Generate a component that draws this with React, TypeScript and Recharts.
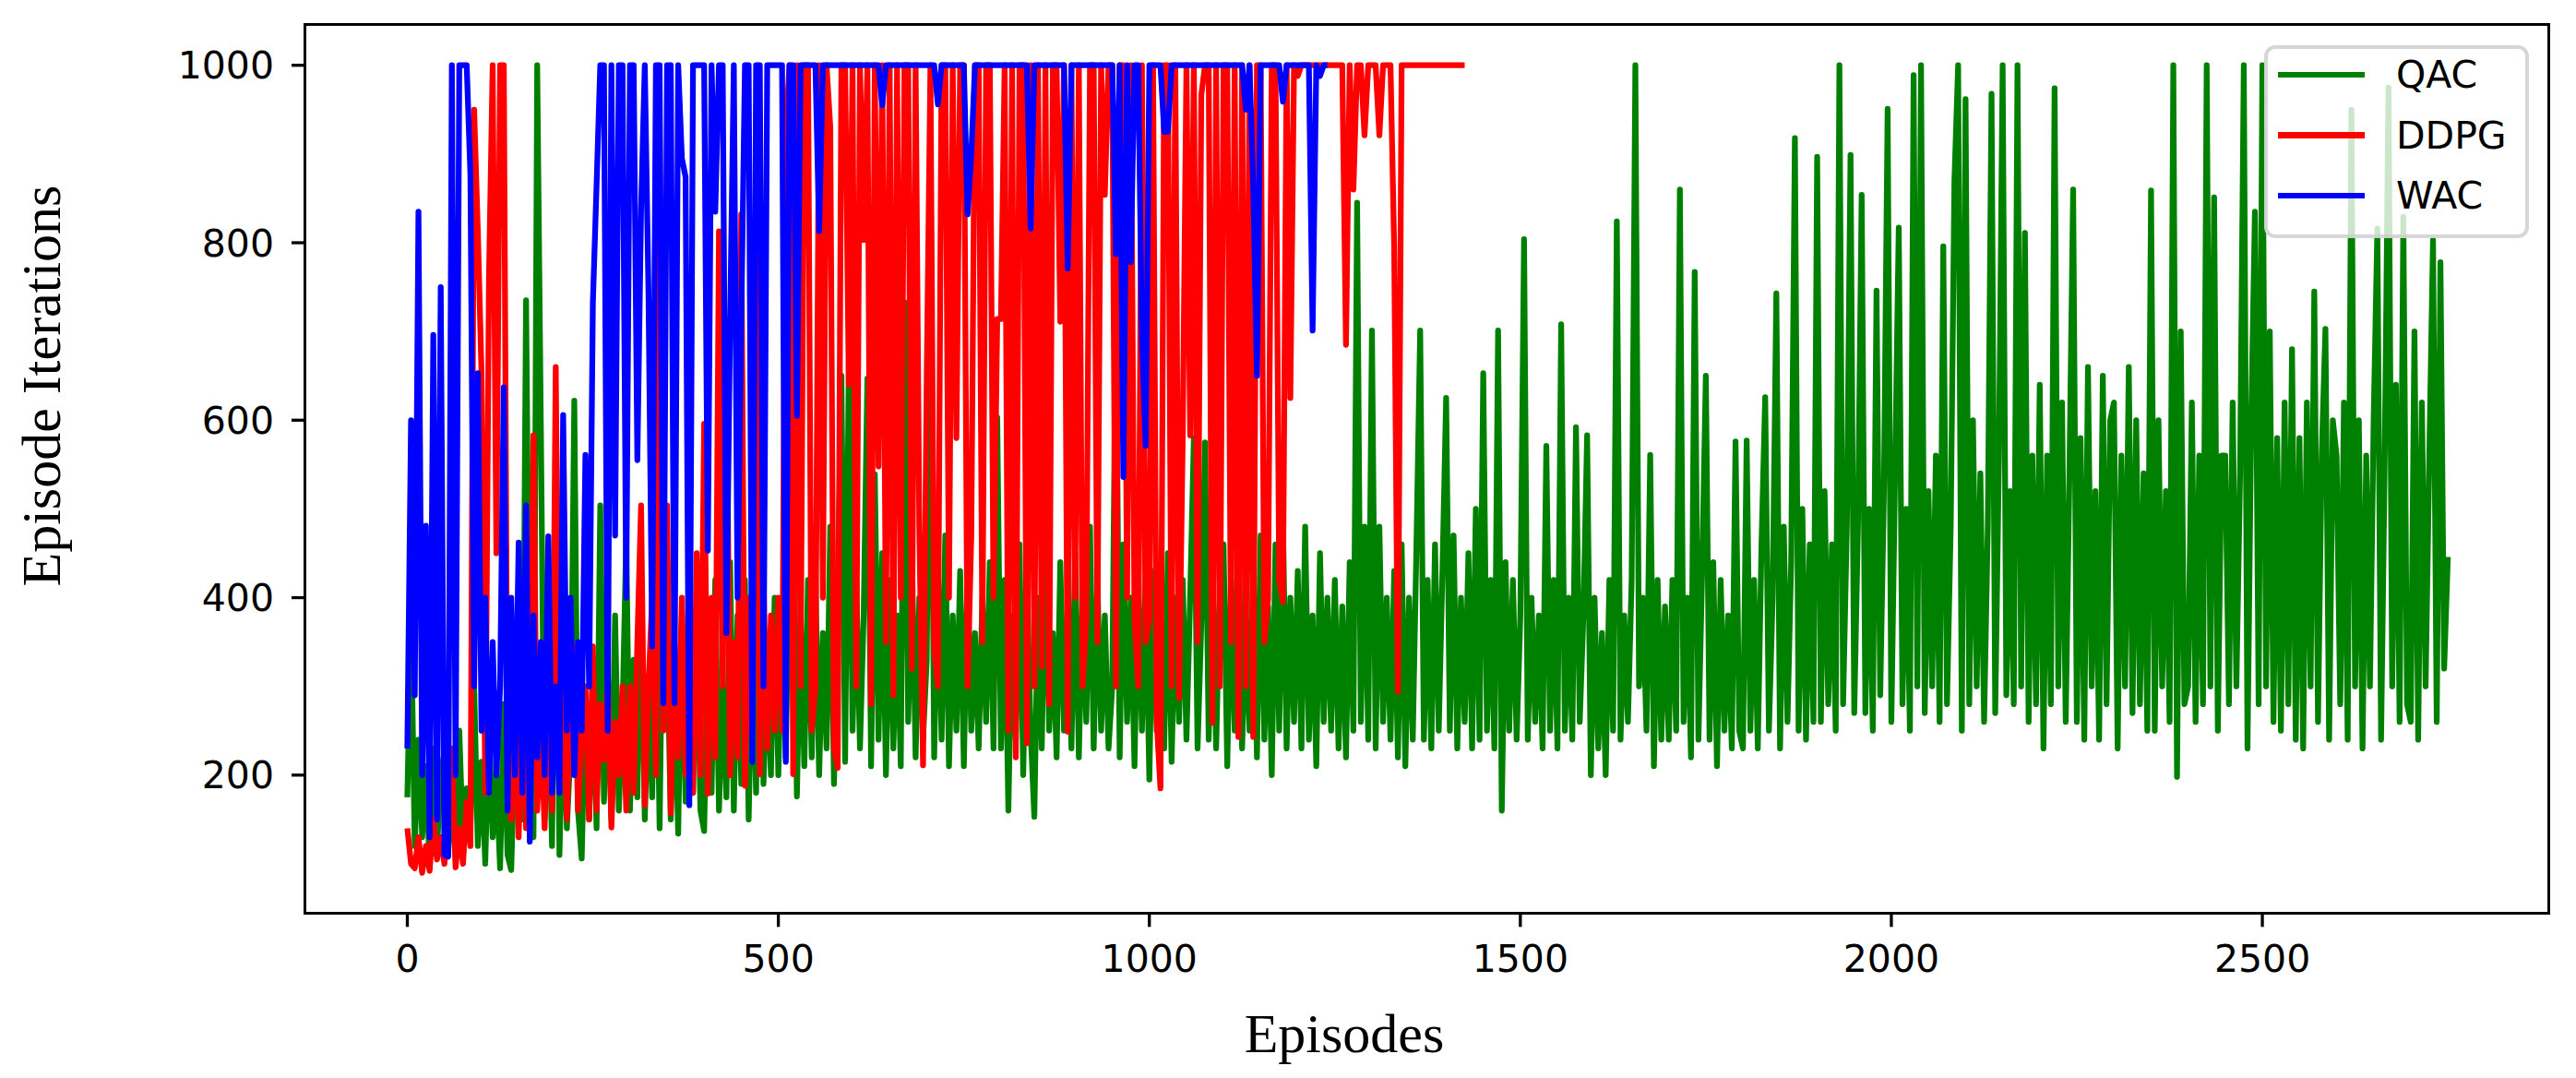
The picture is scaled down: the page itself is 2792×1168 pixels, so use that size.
import { LineChart, Line, XAxis, YAxis } from 'recharts';

// one value every STEP episodes
const STEP = 5;

const QAC = [
  175, 375, 120, 240, 130, 210, 100, 230, 115, 200,
  227, 110, 190, 105, 250, 125, 185, 140, 300, 120,
  215, 100, 260, 130, 200, 95, 280, 110, 93, 240,
  418, 150, 735, 260, 130, 1000, 587, 150, 300, 120,
  517, 110, 280, 140, 230, 622, 160, 106, 290, 150,
  300, 140, 504, 170, 320, 150, 380, 160, 270, 466,
  160, 330, 175, 410, 150, 300, 175, 420, 140, 480,
  360, 150, 310, 134, 380, 170, 290, 180, 400, 160,
  137, 350, 180, 420, 160, 300, 175, 440, 160, 380,
  190, 420, 150, 360, 180, 440, 190, 330, 200, 400,
  200, 380, 220, 470, 469, 176, 383, 210, 420, 220,
  420, 200, 360, 230, 480, 190, 400, 650, 215, 666,
  250, 420, 230, 380, 647, 210, 539, 240, 450, 200,
  420, 230, 380, 210, 733, 260, 450, 220, 400, 240,
  330, 775, 220, 440, 240, 470, 210, 380, 250, 430,
  210, 430, 250, 360, 230, 400, 260, 440, 230, 603,
  230, 420, 160, 380, 240, 460, 200, 420, 250, 153,
  400, 230, 470, 250, 360, 220, 440, 250, 390, 230,
  450, 220, 400, 260, 480, 230, 420, 250, 380, 230,
  300, 740, 220, 460, 260, 400, 210, 430, 250, 420,
  195, 430, 250, 380, 230, 450, 215, 400, 260, 420,
  240, 400, 580, 230, 370, 575, 240, 440, 230, 410,
  460, 210, 420, 250, 500, 230, 380, 250, 440, 220,
  470, 240, 390, 200, 460, 250, 490, 230, 400, 260,
  430, 230, 480, 240, 380, 210, 450, 260, 400, 250,
  420, 230, 390, 220, 440, 250, 845, 260, 480, 240,
  701, 230, 480, 260, 400, 240, 430, 220, 460, 210,
  400, 240, 460, 701, 240, 420, 230, 460, 250, 430,
  625, 250, 470, 230, 400, 260, 450, 230, 500, 240,
  653, 250, 420, 230, 701, 160, 440, 250, 420, 240,
  380, 804, 240, 400, 260, 380, 230, 571, 250, 420,
  230, 708, 250, 400, 240, 592, 260, 380, 583, 200,
  400, 230, 360, 200, 420, 250, 824, 240, 380, 260,
  420, 1000, 300, 400, 250, 561, 210, 420, 240, 390,
  240, 420, 250, 860, 260, 400, 220, 767, 240, 430,
  650, 240, 440, 210, 420, 250, 380, 230, 576, 250,
  230, 577, 250, 420, 230, 460, 626, 250, 400, 743,
  230, 480, 260, 440, 918, 250, 500, 240, 460, 260,
  897, 260, 520, 280, 460, 250, 1000, 280, 480, 899,
  270, 480, 854, 270, 500, 250, 746, 290, 520, 951,
  260, 540, 817, 280, 500, 250, 989, 300, 1000, 270,
  520, 300, 560, 260, 796, 280, 480, 870, 1000, 250,
  962, 280, 600, 300, 540, 260, 480, 968, 270, 560,
  1000, 290, 520, 280, 1000, 300, 811, 260, 560, 280,
  640, 230, 560, 280, 974, 300, 620, 260, 540, 860,
  260, 580, 240, 660, 300, 520, 240, 650, 280, 600,
  620, 230, 560, 300, 660, 270, 600, 280, 540, 250,
  859, 250, 600, 300, 520, 260, 1000, 198, 700, 280,
  300, 620, 260, 560, 280, 1000, 300, 851, 250, 560,
  560, 280, 620, 300, 540, 1000, 230, 600, 835, 280,
  1000, 300, 700, 260, 580, 250, 620, 280, 680, 240,
  580, 230, 620, 300, 745, 260, 560, 703, 240, 600,
  560, 280, 620, 240, 950, 300, 600, 230, 560, 300,
  600, 816, 240, 560, 975, 300, 640, 260, 829, 280,
  260, 700, 240, 620, 300, 560, 803, 260, 778, 320,
  446,
];

const DDPG = [
  140, 100, 95, 130, 90, 120, 92, 150, 105, 130,
  100, 160, 230, 96, 140, 100, 170, 120, 950, 813,
  653, 180, 759, 1000, 450, 1000, 1000, 200, 150, 260,
  130, 300, 140, 220, 583, 160, 260, 140, 300, 160,
  660, 180, 300, 150, 280, 345, 160, 240, 300, 150,
  345, 160, 280, 217, 313, 141, 260, 200, 300, 160,
  300, 180, 350, 504, 166, 300, 400, 200, 918, 250,
  504, 157, 350, 220, 400, 200, 300, 180, 450, 200,
  596, 179, 400, 220, 813, 300, 695, 200, 350, 220,
  832, 188, 400, 250, 794, 201, 420, 230, 380, 250,
  400, 250, 927, 1000, 201, 1000, 300, 1000, 1000, 250,
  300, 1000, 400, 1000, 930, 230, 208, 1000, 1000, 640,
  1000, 300, 1000, 803, 1000, 280, 1000, 548, 1000, 350,
  1000, 290, 1000, 400, 1000, 1000, 320, 1000, 478, 211,
  650, 1000, 345, 300, 1000, 1000, 400, 1000, 580, 1000,
  1000, 300, 469, 1000, 1000, 350, 1000, 1000, 400, 714,
  714, 1000, 250, 1000, 220, 1000, 1000, 236, 1000, 300,
  1000, 322, 1000, 280, 1000, 1000, 711, 1000, 249, 1000,
  400, 1000, 300, 373, 1000, 1000, 350, 1000, 854, 1000,
  1000, 300, 1000, 1000, 400, 1000, 376, 300, 1000, 350,
  376, 1000, 260, 185, 1000, 1000, 300, 1000, 287, 583,
  1000, 583, 1000, 350, 966, 1000, 1000, 259, 1000, 300,
  1000, 1000, 350, 1000, 243, 1000, 300, 1000, 243, 1000,
  1000, 350, 399, 1000, 1000, 420, 395, 1000, 625, 1000,
  988, 1000, 1000, 1000, 1000, 1000, 1000, 1000, 1000, 1000,
  1000, 1000, 1000, 685, 1000, 860, 1000, 1000, 921, 1000,
  1000, 1000, 921, 1000, 1000, 1000, 794, 294, 1000, 1000,
  1000, 1000, 1000, 1000, 1000, 1000, 1000, 1000, 1000, 1000,
  1000, 1000, 1000, 1000, 1000, 1000,
];

const WAC = [
  230, 600, 290, 835, 200, 481, 130, 696, 150, 750,
  110, 108, 1000, 200, 1000, 1000, 1000, 877, 300, 653,
  250, 400, 180, 350, 200, 300, 637, 160, 400, 200,
  462, 180, 504, 125, 380, 220, 350, 200, 469, 180,
  300, 180, 606, 250, 400, 200, 350, 250, 561, 300,
  731, 864, 1000, 1000, 250, 1000, 470, 1000, 1000, 400,
  1000, 1000, 555, 838, 1000, 743, 345, 1000, 1000, 281,
  1000, 1000, 281, 1000, 895, 874, 166, 1000, 1000, 1000,
  1000, 453, 1000, 835, 1000, 1000, 360, 711, 1000, 400,
  711, 1000, 1000, 215, 1000, 1000, 300, 1000, 1000, 1000,
  1000, 1000, 215, 1000, 1000, 605, 1000, 1000, 1000, 1000,
  1000, 813, 1000, 1000, 1000, 1000, 1000, 1000, 1000, 1000,
  1000, 1000, 1000, 1000, 1000, 1000, 1000, 1000, 955, 1000,
  1000, 1000, 1000, 1000, 1000, 1000, 1000, 1000, 1000, 1000,
  1000, 1000, 1000, 956, 1000, 1000, 1000, 1000, 1000, 1000,
  1000, 832, 899, 1000, 1000, 1000, 1000, 1000, 1000, 1000,
  1000, 1000, 1000, 1000, 1000, 1000, 1000, 1000, 816, 1000,
  1000, 1000, 1000, 1000, 1000, 1000, 1000, 1000, 771, 1000,
  1000, 1000, 1000, 1000, 1000, 1000, 1000, 1000, 1000, 1000,
  1000, 787, 1000, 536, 1000, 778, 1000, 1000, 695, 571,
  1000, 1000, 1000, 1000, 925, 925, 1000, 1000, 1000, 1000,
  1000, 1000, 1000, 1000, 1000, 1000, 1000, 1000, 1000, 1000,
  1000, 1000, 1000, 1000, 1000, 1000, 950, 1000, 867, 650,
  1000, 1000, 1000, 1000, 1000, 1000, 959, 1000, 1000, 1000,
  1000, 1000, 1000, 1000, 701, 1000, 988, 1000, 1000,
];

const X_TICKS = [0, 500, 1000, 1500, 2000, 2500];
const Y_TICKS = [200, 400, 600, 800, 1000];

const SERIES = [
  { name: 'QAC', values: QAC, color: '#008000' },
  { name: 'DDPG', values: DDPG, color: '#ff0000' },
  { name: 'WAC', values: WAC, color: '#0000ff' },
];

const toPoints = (values: number[]) =>
  values.map((v, i) => ({ episode: i * STEP, iterations: v }));

const X_DOMAIN = [-137.4, 2885.4];
const Y_DOMAIN = [44.5, 1045.5];

// plot area in page pixels
const PLOT = { left: 331, top: 27, right: 2762, bottom: 989.3 };

const tickFont = { fontSize: 41, fill: '#000', fontFamily: 'DejaVu Sans' };
const tickStroke = { stroke: '#000', strokeWidth: 3.3 };
const serif = '"Liberation Serif", "Times New Roman", serif';

function ChartLegend() {
  return (
    <div
      style={{
        position: 'absolute',
        left: 2454,
        top: 49,
        width: 287,
        height: 209,
        boxSizing: 'border-box',
        border: '4px solid rgba(204,204,204,0.8)',
        borderRadius: 12,
        background: 'rgba(255,255,255,0.8)',
      }}
    >
      {SERIES.map((s, i) => {
        const rowY = 28 + i * 65.5;
        return (
          <div key={s.name}>
            <div
              style={{
                position: 'absolute',
                left: 11,
                top: rowY - 3.1,
                width: 94,
                height: 6.25,
                background: s.color,
              }}
            />
            <span
              style={{
                position: 'absolute',
                left: 139,
                top: rowY - 20,
                fontFamily: 'DejaVu Sans',
                fontSize: 41,
                lineHeight: '41px',
                color: '#000',
                whiteSpace: 'nowrap',
              }}
            >
              {s.name}
            </span>
          </div>
        );
      })}
    </div>
  );
}

export default function App() {
  return (
    <div style={{ position: 'absolute', left: 0, top: 0, width: 2792, height: 1168, background: '#fff' }}>
      <LineChart
        width={2792}
        height={1168}
        margin={{ top: PLOT.top, right: 2792 - PLOT.right, left: PLOT.left - 120, bottom: 1168 - PLOT.bottom - 60 }}
      >
        <XAxis
          type="number"
          dataKey="episode"
          domain={X_DOMAIN}
          ticks={X_TICKS}
          allowDataOverflow
          height={60}
          tick={tickFont}
          tickSize={15}
          tickMargin={20}
          tickLine={tickStroke}
          axisLine={false}
        />
        <YAxis
          type="number"
          domain={Y_DOMAIN}
          ticks={Y_TICKS}
          allowDataOverflow
          width={120}
          tick={tickFont}
          tickSize={15}
          tickMargin={19}
          tickLine={tickStroke}
          axisLine={false}
        />
        {SERIES.map((s) => (
          <Line
            key={s.name}
            name={s.name}
            data={toPoints(s.values)}
            dataKey="iterations"
            stroke={s.color}
            strokeWidth={6.25}
            strokeLinejoin="round"
            dot={false}
            activeDot={false}
            isAnimationActive={false}
          />
        ))}
      </LineChart>
      {/* axes frame */}
      <div
        style={{
          position: 'absolute',
          left: PLOT.left - 1.65,
          top: PLOT.top - 1.65,
          width: PLOT.right - PLOT.left + 3.3,
          height: PLOT.bottom - PLOT.top + 3.3,
          boxSizing: 'border-box',
          border: '3.3px solid #000',
          pointerEvents: 'none',
        }}
      />
      <ChartLegend />
      <div
        style={{
          position: 'absolute',
          left: 45,
          top: 418,
          transform: 'translate(-50%, -50%) rotate(-90deg)',
          fontFamily: serif,
          fontSize: 60,
          lineHeight: '60px',
          color: '#000',
          whiteSpace: 'nowrap',
        }}
      >
        Episode Iterations
      </div>
      <div
        style={{
          position: 'absolute',
          left: 1457,
          top: 1090,
          transform: 'translateX(-50%)',
          fontFamily: serif,
          fontSize: 60,
          lineHeight: '60px',
          color: '#000',
          whiteSpace: 'nowrap',
        }}
      >
        Episodes
      </div>
    </div>
  );
}
